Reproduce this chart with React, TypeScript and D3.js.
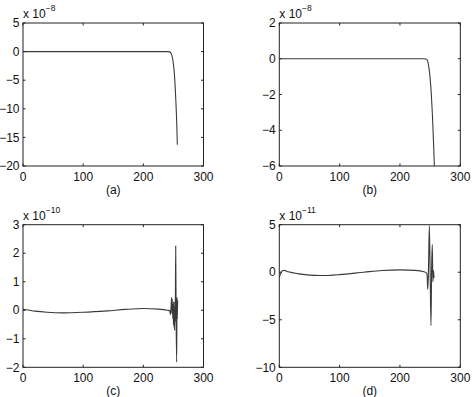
import React from "react";
import * as d3 from "d3";

// ---- data ----
const xTicks = [0, 100, 200, 300];

const aX = [0, 100, 200, 240, 244, 246, 248, 250, 252, 254, 255.5, 256.5];
const aY = [0, 0, 0, 0, -0.05, -0.3, -0.9, -2.2, -4.5, -8.5, -12.5, -16.3];
const aTicks = [5, 0, -5, -10, -15, -20];

const bX = [0, 100, 200, 240, 244, 246, 248, 250, 252, 254, 256, 258];
const bY = [0, 0, 0, 0, -0.03, -0.15, -0.5, -1.1, -2.0, -3.3, -5.0, -7.0];
const bTicks = [2, 0, -2, -4, -6];

const cX = [0, 5, 20, 40, 67, 100, 140, 170, 200, 225, 240, 244, 245, 246, 247, 247.5, 248, 249, 249.5, 250, 250.5, 251, 251.5, 252, 252.5, 253, 253.8, 254.6, 255.4, 256, 256.5, 257];
const cY = [0.03, 0.02, -0.03, -0.07, -0.09, -0.07, -0.02, 0.03, 0.06, 0.04, 0.0, -0.02, -0.15, 0.1, 0.45, -0.1, 0.4, -0.3, 0.2, -0.5, 0.3, -0.6, 0.1, -0.7, 0.3, -0.4, 2.25, -0.5, -1.82, 0.45, -0.3, 0.35];
const cTicks = [3, 2, 1, 0, -1, -2];

const dX = [0, 2, 5, 8, 15, 30, 50, 68, 100, 140, 170, 200, 225, 240, 244, 245, 246, 247, 248.7, 250, 251.4, 252.5, 253.6, 254.5, 255.5, 256.5];
const dY = [-0.5, -0.2, 0.15, 0.2, 0.05, -0.15, -0.3, -0.35, -0.25, 0.0, 0.18, 0.25, 0.2, 0.05, -0.1, -0.3, -1.8, -0.5, 4.9, 0.0, -5.6, 0.5, 2.9, -1.0, 0.2, -0.6];
const dTicks = [5, 0, -5, -10];

const FONT = "'Liberation Sans', Arial, Helvetica, sans-serif";

type PanelProps = {
  id: string;
  left: number;
  right: number;
  top: number;
  bottom: number;
  xs: number[];
  ys: number[];
  yTicks: number[];
  exp: string;
  label: string;
};

function fmt(v: number) {
  return v < 0 ? "\u2212" + Math.abs(v) : String(v);
}

function Panel({ id, left, right, top, bottom, xs, ys, yTicks, exp, label }: PanelProps) {
  const x = d3.scaleLinear().domain([0, 300]).range([left, right]);
  const yMax = d3.max(yTicks) as number;
  const yMin = d3.min(yTicks) as number;
  const y = d3.scaleLinear().domain([yMin, yMax]).range([bottom, top]);
  const pts: [number, number][] = xs.map((v, i) => [v, ys[i]]);
  const line = d3
    .line<[number, number]>()
    .x((d) => x(d[0]))
    .y((d) => y(d[1]))
    .curve(d3.curveMonotoneX);
  const tl = 2.5;
  return (
    <g>
      <defs>
        <clipPath id={"clip-" + id}>
          <rect x={left} y={top} width={right - left} height={bottom - top} />
        </clipPath>
      </defs>
      <path d={line(pts) || ""} fill="none" stroke="#3a3a3a" strokeWidth={1.1} clipPath={`url(#clip-${id})`} />
      <rect x={left} y={top} width={right - left} height={bottom - top} fill="none" stroke="#222" strokeWidth={1} />
      {xTicks.map((t) => (
        <g key={"x" + t}>
          <line x1={x(t)} x2={x(t)} y1={bottom} y2={bottom - tl} stroke="#222" />
          <line x1={x(t)} x2={x(t)} y1={top} y2={top + tl} stroke="#222" />
          <text x={x(t)} y={bottom + 15} textAnchor="middle" fontSize={12} fontFamily={FONT} fill="#111">
            {t}
          </text>
        </g>
      ))}
      {yTicks.map((t) => (
        <g key={"y" + t}>
          <line x1={left} x2={left + tl} y1={y(t)} y2={y(t)} stroke="#222" />
          <line x1={right} x2={right - tl} y1={y(t)} y2={y(t)} stroke="#222" />
          <text x={left - 3.5} y={y(t) + 4.2} textAnchor="end" fontSize={12} fontFamily={FONT} fill="#111">
            {fmt(t)}
          </text>
        </g>
      ))}
      <text x={left} y={top - 5} fontSize={12} fontFamily={FONT} fill="#111">
        x 10
        <tspan fontSize={8.5} dy={-7}>{exp}</tspan>
      </text>
      <text x={(left + right) / 2} y={bottom + 28} textAnchor="middle" fontSize={12} fontFamily={FONT} fill="#111">
        {label}
      </text>
    </g>
  );
}

export default function App() {
  const L1 = 23, R1 = 203.5, L2 = 279.3, R2 = 460.3;
  const T1 = 23, B1 = 166, T2 = 224.7, B2 = 367.3;
  return (
    <svg width={474} height={397} style={{ position: "absolute", left: 0, top: 0, background: "#fff" }}>
      <rect width={474} height={397} fill="#fff" />
      <Panel id="a" left={L1} right={R1} top={T1} bottom={B1} xs={aX} ys={aY} yTicks={aTicks} exp={"\u22128"} label="(a)" />
      <Panel id="b" left={L2} right={R2} top={T1} bottom={B1} xs={bX} ys={bY} yTicks={bTicks} exp={"\u22128"} label="(b)" />
      <Panel id="c" left={L1} right={R1} top={T2} bottom={B2} xs={cX} ys={cY} yTicks={cTicks} exp={"\u221210"} label="(c)" />
      <Panel id="d" left={L2} right={R2} top={T2} bottom={B2} xs={dX} ys={dY} yTicks={dTicks} exp={"\u221211"} label="(d)" />
    </svg>
  );
}
